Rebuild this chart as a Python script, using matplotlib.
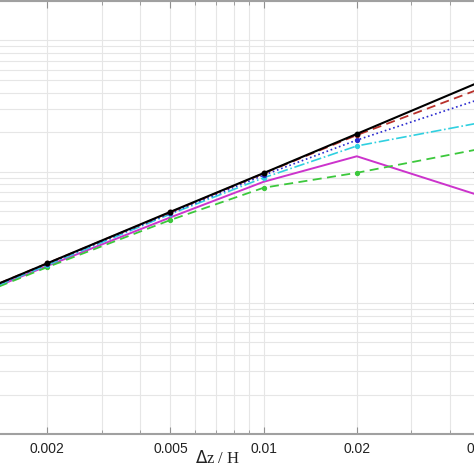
import matplotlib
matplotlib.use("Agg")
import matplotlib.pyplot as plt
from matplotlib.ticker import FixedLocator, FixedFormatter, NullFormatter

# grid spacing dz/H
dz = [0.001, 0.002, 0.005, 0.01, 0.02, 0.05]

# errors
err_black = [1.01e-3, 2.00e-3, 4.94e-3, 9.75e-3, 1.94e-2, 4.84e-2]
err_red = [1.01e-3, 2.00e-3, 4.90e-3, 9.70e-3, 1.90e-2, 4.28e-2]
err_blue = [1.00e-3, 1.98e-3, 4.83e-3, 9.40e-3, 1.74e-2, 3.57e-2]
err_cyan = [0.99e-3, 1.94e-3, 4.75e-3, 8.98e-3, 1.57e-2, 2.36e-2]
err_magenta = [0.98e-3, 1.91e-3, 4.48e-3, 8.37e-3, 1.31e-2, 6.56e-3]
err_green = [0.97e-3, 1.87e-3, 4.28e-3, 7.54e-3, 9.80e-3, 1.49e-2]

# 0.001 sits on the (cropped) left edge, so its label is left blank
major_x = [0.001, 0.002, 0.005, 0.01, 0.02, 0.05]
major_x_labels = ["", "0.002", "0.005", "0.01", "0.02", "0.05"]
minor_x = [0.003, 0.004, 0.006, 0.007, 0.008, 0.009, 0.03, 0.04]

fig = plt.figure(figsize=(4.74, 4.74), dpi=100)
# axes run past the left/right edges of the picture, like the cropped original
ax = fig.add_axes([-46 / 474, 40 / 474, 526 / 474, 433 / 474])

ax.plot(dz, err_black, '-', color='black', lw=1.5, marker='o', ms=3.2, zorder=6)
ax.plot(dz, err_red, '--', color='#b8302a', lw=1.3, marker='o', ms=3, dashes=(5, 3), zorder=5)
ax.plot(dz, err_blue, ':', color='#2a2ad0', lw=1.2, marker='o', ms=2.8, zorder=4)
ax.plot(dz, err_cyan, '-.', color='#30d0e0', lw=1.2, marker='o', ms=2.8, zorder=3)
ax.plot(dz, err_magenta, '-', color='#cc33cc', lw=1.4, zorder=2)
ax.plot(dz, err_green, '--', color='#3cc83c', lw=1.3, marker='o', ms=2.8, dashes=(5, 3), zorder=2)

ax.set_xscale('log')
ax.set_yscale('log')
ax.set_xlim(0.001, 0.05)
ax.set_ylim(1e-4, 0.2)

ax.xaxis.set_major_locator(FixedLocator(major_x))
ax.xaxis.set_major_formatter(FixedFormatter(major_x_labels))
ax.xaxis.set_minor_locator(FixedLocator(minor_x))
ax.xaxis.set_minor_formatter(NullFormatter())
ax.yaxis.set_major_formatter(NullFormatter())
ax.yaxis.set_minor_formatter(NullFormatter())

ax.grid(True, which='both', color='#e6e6e6', lw=0.8)
ax.set_axisbelow(True)

for side in ['top', 'bottom', 'left', 'right']:
    ax.spines[side].set_color('#a0a0a0')
    ax.spines[side].set_linewidth(1.5)

ax.tick_params(which='both', direction='in', top=True, right=True, colors='#909090',
               labelcolor='#222222', labelsize=10, labelfontfamily='Liberation Sans')
ax.tick_params(which='major', length=5, pad=6)
ax.tick_params(which='minor', length=3)

ax.set_xlabel(r'$\Delta$z / H', family='Liberation Serif', fontsize=12, color='#222222')
ax.xaxis.set_label_coords(((218 + 46) / 526), -0.057)
ax.xaxis.label.set_va('center')

fig.savefig('out.png', dpi=100)
